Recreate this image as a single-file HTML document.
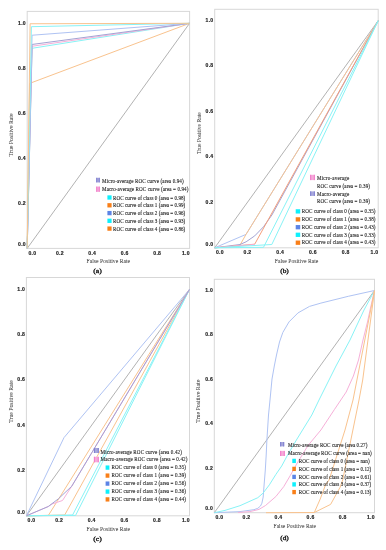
<!DOCTYPE html><html><head><meta charset="utf-8"><style>html,body{margin:0;padding:0;background:#fff;width:386px;height:550px;overflow:hidden}svg{display:block;filter:blur(0.3px)}</style></head><body>
<svg width="386" height="550" viewBox="0 0 386 550">
<rect width="386" height="550" fill="#fff"/>
<rect x="27.2" y="11.4" width="162.4" height="237" fill="none" stroke="#d7d7d7" stroke-width="1"/>
<polyline points="27.2,248.4 189.6,23.3" fill="none" stroke="#a9a9a9" stroke-width="0.9" stroke-linejoin="round" />
<polyline points="27.2,248.4 29.64,83.4 189.6,23.3" fill="none" stroke="#f9c38e" stroke-width="1.0" stroke-linejoin="round" />
<polyline points="27.2,248.4 32.07,48.29 189.6,23.3" fill="none" stroke="#88f3f6" stroke-width="1.0" stroke-linejoin="round" />
<polyline points="27.2,248.4 32.07,46.26 189.6,23.3" fill="none" stroke="#f6b0d9" stroke-width="1.0" stroke-linejoin="round" />
<polyline points="27.2,248.4 32.07,44.46 189.6,23.3" fill="none" stroke="#a3a3d3" stroke-width="1.0" stroke-linejoin="round" />
<polyline points="27.2,248.4 32.07,35.23 189.6,23.3" fill="none" stroke="#afc3f3" stroke-width="1.0" stroke-linejoin="round" />
<polyline points="27.2,248.4 31.42,26.68 189.6,23.3" fill="none" stroke="#88f3f6" stroke-width="1.0" stroke-linejoin="round" />
<polyline points="27.2,248.4 30.12,23.75 189.6,23.3" fill="none" stroke="#f9c38e" stroke-width="1.0" stroke-linejoin="round" />
<text x="21.9" y="246.15" font-family="Liberation Sans" font-size="5.1" font-weight="bold" fill="#222" text-anchor="middle" textLength="7.6" lengthAdjust="spacing" stroke="#222" stroke-width="0.15">0.0</text>
<text x="21.9" y="204.73" font-family="Liberation Sans" font-size="5.1" font-weight="bold" fill="#222" text-anchor="middle" textLength="7.6" lengthAdjust="spacing" stroke="#222" stroke-width="0.15">0.2</text>
<text x="21.9" y="159.71" font-family="Liberation Sans" font-size="5.1" font-weight="bold" fill="#222" text-anchor="middle" textLength="7.6" lengthAdjust="spacing" stroke="#222" stroke-width="0.15">0.4</text>
<text x="21.9" y="114.69" font-family="Liberation Sans" font-size="5.1" font-weight="bold" fill="#222" text-anchor="middle" textLength="7.6" lengthAdjust="spacing" stroke="#222" stroke-width="0.15">0.6</text>
<text x="21.9" y="69.67" font-family="Liberation Sans" font-size="5.1" font-weight="bold" fill="#222" text-anchor="middle" textLength="7.6" lengthAdjust="spacing" stroke="#222" stroke-width="0.15">0.8</text>
<text x="21.9" y="24.65" font-family="Liberation Sans" font-size="5.1" font-weight="bold" fill="#222" text-anchor="middle" textLength="7.6" lengthAdjust="spacing" stroke="#222" stroke-width="0.15">1.0</text>
<text x="32.2" y="255.05" font-family="Liberation Sans" font-size="5.1" font-weight="bold" fill="#222" text-anchor="middle" textLength="7.6" lengthAdjust="spacing" stroke="#222" stroke-width="0.15">0.0</text>
<text x="59.68" y="255.05" font-family="Liberation Sans" font-size="5.1" font-weight="bold" fill="#222" text-anchor="middle" textLength="7.6" lengthAdjust="spacing" stroke="#222" stroke-width="0.15">0.2</text>
<text x="92.16" y="255.05" font-family="Liberation Sans" font-size="5.1" font-weight="bold" fill="#222" text-anchor="middle" textLength="7.6" lengthAdjust="spacing" stroke="#222" stroke-width="0.15">0.4</text>
<text x="124.64" y="255.05" font-family="Liberation Sans" font-size="5.1" font-weight="bold" fill="#222" text-anchor="middle" textLength="7.6" lengthAdjust="spacing" stroke="#222" stroke-width="0.15">0.6</text>
<text x="157.12" y="255.05" font-family="Liberation Sans" font-size="5.1" font-weight="bold" fill="#222" text-anchor="middle" textLength="7.6" lengthAdjust="spacing" stroke="#222" stroke-width="0.15">0.8</text>
<text x="185.8" y="255.05" font-family="Liberation Sans" font-size="5.1" font-weight="bold" fill="#222" text-anchor="middle" textLength="7.6" lengthAdjust="spacing" stroke="#222" stroke-width="0.15">1.0</text>
<text x="0" y="0" font-family="Liberation Serif" font-size="6.6" fill="#454545" stroke="#454545" stroke-width="0.04" text-anchor="middle" textLength="42.7" lengthAdjust="spacingAndGlyphs" transform="translate(13.1,134.9) rotate(-90)">True Positive Rate</text>
<text x="108.3" y="263.4" font-family="Liberation Serif" font-size="6.6" font-weight="normal" fill="#454545" text-anchor="middle" textLength="43.5" lengthAdjust="spacingAndGlyphs" stroke="#454545" stroke-width="0.04">False Positive Rate</text>
<text x="97.6" y="272.7" font-family="Liberation Serif" font-size="6.9" font-weight="normal" fill="#111" text-anchor="middle" textLength="8.6" lengthAdjust="spacingAndGlyphs" stroke="#111" stroke-width="0.35">(a)</text>
<rect x="96.2" y="177.8" width="3.6" height="4.6" fill="#a8a8dc"/>
<rect x="96.2" y="177.8" width="1.1" height="4.6" fill="#8282d2"/>
<rect x="98.7" y="177.8" width="1.1" height="4.6" fill="#8282d2"/>
<text x="102.1" y="183.25" font-family="Liberation Serif" font-size="5.1" font-weight="normal" fill="#1e1e1e" text-anchor="start" textLength="81.6" lengthAdjust="spacing" stroke="#1e1e1e" stroke-width="0.1">Micro-average ROC curve (area 0.94)</text>
<rect x="96.2" y="186.6" width="3.6" height="5.2" fill="#f6acda"/>
<rect x="96.2" y="186.6" width="1.1" height="5.2" fill="#f27ecb"/>
<rect x="98.7" y="186.6" width="1.1" height="5.2" fill="#f27ecb"/>
<text x="102" y="190.95" font-family="Liberation Serif" font-size="5.1" font-weight="normal" fill="#1e1e1e" text-anchor="start" textLength="86.4" lengthAdjust="spacing" stroke="#1e1e1e" stroke-width="0.1">Macro-average ROC curve (area = 0.94)</text>
<rect x="107.4" y="195.35" width="4.2" height="4.3" fill="#0ef0fc"/>
<text x="113" y="199.85" font-family="Liberation Serif" font-size="5.1" font-weight="normal" fill="#1e1e1e" text-anchor="start" textLength="72.3" lengthAdjust="spacing" stroke="#1e1e1e" stroke-width="0.1">ROC curve of class 0 (area = 0.98)</text>
<rect x="107.4" y="203.15" width="4.2" height="4.3" fill="#f97f18"/>
<text x="113" y="207.25" font-family="Liberation Serif" font-size="5.1" font-weight="normal" fill="#1e1e1e" text-anchor="start" textLength="72.3" lengthAdjust="spacing" stroke="#1e1e1e" stroke-width="0.1">ROC curve of class 1 (area = 0.99)</text>
<rect x="107.4" y="210.95" width="4.2" height="4.3" fill="#5c84e6"/>
<text x="113" y="215.05" font-family="Liberation Serif" font-size="5.1" font-weight="normal" fill="#1e1e1e" text-anchor="start" textLength="72.3" lengthAdjust="spacing" stroke="#1e1e1e" stroke-width="0.1">ROC curve of class 2 (area = 0.96)</text>
<rect x="107.4" y="218.65" width="4.2" height="4.3" fill="#0ef0fc"/>
<text x="113" y="222.85" font-family="Liberation Serif" font-size="5.1" font-weight="normal" fill="#1e1e1e" text-anchor="start" textLength="72.3" lengthAdjust="spacing" stroke="#1e1e1e" stroke-width="0.1">ROC curve of class 3 (area = 0.93)</text>
<rect x="107.4" y="226.45" width="4.2" height="4.3" fill="#f97f18"/>
<text x="113" y="230.55" font-family="Liberation Serif" font-size="5.1" font-weight="normal" fill="#1e1e1e" text-anchor="start" textLength="72.3" lengthAdjust="spacing" stroke="#1e1e1e" stroke-width="0.1">ROC curve of class 4 (area = 0.86)</text>
<rect x="214.7" y="9.3" width="163.5" height="238.5" fill="none" stroke="#d7d7d7" stroke-width="1"/>
<polyline points="214.7,247.8 378.2,20.7" fill="none" stroke="#a9a9a9" stroke-width="0.9" stroke-linejoin="round" />
<polyline points="214.7,247.8 246,234.4 378.2,20.7" fill="none" stroke="#afc3f3" stroke-width="1.0" stroke-linejoin="round" />
<polyline points="214.7,247.8 239.4,246.2 245.9,234.6 378.2,20.7" fill="none" stroke="#f9c38e" stroke-width="1.0" stroke-linejoin="round" />
<polyline points="214.7,247.8 240,244.5 246.1,241.8 254.7,235.9 263.5,226.8 271.9,215 378.2,20.7" fill="none" stroke="#a3a3d3" stroke-width="1.0" stroke-linejoin="round" />
<polyline points="214.7,247.8 254.7,244.2 378.2,20.7" fill="none" stroke="#f4a07e" stroke-width="1.0" stroke-linejoin="round" />
<polyline points="214.7,247.8 254.7,244.4" fill="none" stroke="#f6b0d9" stroke-width="1.0" stroke-linejoin="round" />
<polyline points="214.7,247.8 263.5,247.3 378.2,20.7" fill="none" stroke="#88f3f6" stroke-width="1.0" stroke-linejoin="round" />
<polyline points="214.7,247.8 271.8,244.5 378.2,20.7" fill="none" stroke="#88f3f6" stroke-width="1.0" stroke-linejoin="round" />
<text x="209.4" y="245.55" font-family="Liberation Sans" font-size="5.1" font-weight="bold" fill="#222" text-anchor="middle" textLength="7.6" lengthAdjust="spacing" stroke="#222" stroke-width="0.15">0.0</text>
<text x="209.4" y="203.73" font-family="Liberation Sans" font-size="5.1" font-weight="bold" fill="#222" text-anchor="middle" textLength="7.6" lengthAdjust="spacing" stroke="#222" stroke-width="0.15">0.2</text>
<text x="209.4" y="158.31" font-family="Liberation Sans" font-size="5.1" font-weight="bold" fill="#222" text-anchor="middle" textLength="7.6" lengthAdjust="spacing" stroke="#222" stroke-width="0.15">0.4</text>
<text x="209.4" y="112.89" font-family="Liberation Sans" font-size="5.1" font-weight="bold" fill="#222" text-anchor="middle" textLength="7.6" lengthAdjust="spacing" stroke="#222" stroke-width="0.15">0.6</text>
<text x="209.4" y="67.47" font-family="Liberation Sans" font-size="5.1" font-weight="bold" fill="#222" text-anchor="middle" textLength="7.6" lengthAdjust="spacing" stroke="#222" stroke-width="0.15">0.8</text>
<text x="209.4" y="22.05" font-family="Liberation Sans" font-size="5.1" font-weight="bold" fill="#222" text-anchor="middle" textLength="7.6" lengthAdjust="spacing" stroke="#222" stroke-width="0.15">1.0</text>
<text x="219.7" y="254.45" font-family="Liberation Sans" font-size="5.1" font-weight="bold" fill="#222" text-anchor="middle" textLength="7.6" lengthAdjust="spacing" stroke="#222" stroke-width="0.15">0.0</text>
<text x="247.4" y="254.45" font-family="Liberation Sans" font-size="5.1" font-weight="bold" fill="#222" text-anchor="middle" textLength="7.6" lengthAdjust="spacing" stroke="#222" stroke-width="0.15">0.2</text>
<text x="280.1" y="254.45" font-family="Liberation Sans" font-size="5.1" font-weight="bold" fill="#222" text-anchor="middle" textLength="7.6" lengthAdjust="spacing" stroke="#222" stroke-width="0.15">0.4</text>
<text x="312.8" y="254.45" font-family="Liberation Sans" font-size="5.1" font-weight="bold" fill="#222" text-anchor="middle" textLength="7.6" lengthAdjust="spacing" stroke="#222" stroke-width="0.15">0.6</text>
<text x="345.5" y="254.45" font-family="Liberation Sans" font-size="5.1" font-weight="bold" fill="#222" text-anchor="middle" textLength="7.6" lengthAdjust="spacing" stroke="#222" stroke-width="0.15">0.8</text>
<text x="374.4" y="254.45" font-family="Liberation Sans" font-size="5.1" font-weight="bold" fill="#222" text-anchor="middle" textLength="7.6" lengthAdjust="spacing" stroke="#222" stroke-width="0.15">1.0</text>
<text x="0" y="0" font-family="Liberation Serif" font-size="6.6" fill="#454545" stroke="#454545" stroke-width="0.04" text-anchor="middle" textLength="42" lengthAdjust="spacingAndGlyphs" transform="translate(200.9,133.1) rotate(-90)">True Positive Rate</text>
<text x="296.6" y="262.9" font-family="Liberation Serif" font-size="6.6" font-weight="normal" fill="#454545" text-anchor="middle" textLength="43.5" lengthAdjust="spacingAndGlyphs" stroke="#454545" stroke-width="0.04">False Positive Rate</text>
<text x="284.5" y="272.5" font-family="Liberation Serif" font-size="6.9" font-weight="normal" fill="#111" text-anchor="middle" textLength="8.6" lengthAdjust="spacingAndGlyphs" stroke="#111" stroke-width="0.35">(b)</text>
<rect x="310.1" y="174.8" width="4.8" height="5.3" fill="#f6acda"/>
<rect x="310.1" y="174.8" width="1.1" height="5.3" fill="#f27ecb"/>
<rect x="313.8" y="174.8" width="1.1" height="5.3" fill="#f27ecb"/>
<text x="317" y="180.35" font-family="Liberation Serif" font-size="5.1" font-weight="normal" fill="#1e1e1e" text-anchor="start" textLength="32.2" lengthAdjust="spacing" stroke="#1e1e1e" stroke-width="0.1">Micro-average</text>
<text x="317" y="188.05" font-family="Liberation Serif" font-size="5.1" font-weight="normal" fill="#1e1e1e" text-anchor="start" textLength="53" lengthAdjust="spacing" stroke="#1e1e1e" stroke-width="0.1">ROC curve (area = 0.39)</text>
<rect x="310.1" y="191.4" width="4.8" height="4.5" fill="#a8a8dc"/>
<rect x="310.1" y="191.4" width="1.1" height="4.5" fill="#8282d2"/>
<rect x="313.8" y="191.4" width="1.1" height="4.5" fill="#8282d2"/>
<text x="317" y="195.75" font-family="Liberation Serif" font-size="5.1" font-weight="normal" fill="#1e1e1e" text-anchor="start" textLength="32.2" lengthAdjust="spacing" stroke="#1e1e1e" stroke-width="0.1">Macro-average</text>
<text x="317" y="203.35" font-family="Liberation Serif" font-size="5.1" font-weight="normal" fill="#1e1e1e" text-anchor="start" textLength="53" lengthAdjust="spacing" stroke="#1e1e1e" stroke-width="0.1">ROC curve (area = 0.39)</text>
<rect x="295.7" y="209.25" width="4.5" height="4.3" fill="#0ef0fc"/>
<text x="301.8" y="213.15" font-family="Liberation Serif" font-size="5.1" font-weight="normal" fill="#1e1e1e" text-anchor="start" textLength="73.7" lengthAdjust="spacing" stroke="#1e1e1e" stroke-width="0.1">ROC curve of class 0 (area = 0.35)</text>
<rect x="295.7" y="217.25" width="4.5" height="4.3" fill="#f97f18"/>
<text x="301.8" y="221.15" font-family="Liberation Serif" font-size="5.1" font-weight="normal" fill="#1e1e1e" text-anchor="start" textLength="73.7" lengthAdjust="spacing" stroke="#1e1e1e" stroke-width="0.1">ROC curve of class 1 (area = 0.38)</text>
<rect x="295.7" y="225.05" width="4.5" height="4.3" fill="#5c84e6"/>
<text x="301.8" y="228.95" font-family="Liberation Serif" font-size="5.1" font-weight="normal" fill="#1e1e1e" text-anchor="start" textLength="73.7" lengthAdjust="spacing" stroke="#1e1e1e" stroke-width="0.1">ROC curve of class 2 (area = 0.43)</text>
<rect x="295.7" y="232.65" width="4.5" height="4.3" fill="#0ef0fc"/>
<text x="301.8" y="236.55" font-family="Liberation Serif" font-size="5.1" font-weight="normal" fill="#1e1e1e" text-anchor="start" textLength="73.7" lengthAdjust="spacing" stroke="#1e1e1e" stroke-width="0.1">ROC curve of class 3 (area = 0.33)</text>
<rect x="295.7" y="240.55" width="4.5" height="4.3" fill="#f97f18"/>
<text x="301.8" y="244.45" font-family="Liberation Serif" font-size="5.1" font-weight="normal" fill="#1e1e1e" text-anchor="start" textLength="73.7" lengthAdjust="spacing" stroke="#1e1e1e" stroke-width="0.1">ROC curve of class 4 (area = 0.43)</text>
<rect x="26.4" y="277.5" width="163.1" height="238.3" fill="none" stroke="#d7d7d7" stroke-width="1"/>
<polyline points="26.4,515.8 189.5,289.4" fill="none" stroke="#a9a9a9" stroke-width="0.9" stroke-linejoin="round" />
<polyline points="26.4,515.8 64,437.6 189.5,289.4" fill="none" stroke="#afc3f3" stroke-width="1.0" stroke-linejoin="round" />
<polyline points="26.4,515.8 48.3,515.5 189.5,289.4" fill="none" stroke="#f9c38e" stroke-width="1.0" stroke-linejoin="round" />
<polyline points="26.4,515.8 64.7,515 189.5,289.4" fill="none" stroke="#f9c38e" stroke-width="1.0" stroke-linejoin="round" />
<polyline points="26.4,515.8 72.6,515 189.5,289.4" fill="none" stroke="#88f3f6" stroke-width="1.0" stroke-linejoin="round" />
<polyline points="26.4,515.8 75.6,515.4 189.5,289.4" fill="none" stroke="#88f3f6" stroke-width="1.0" stroke-linejoin="round" />
<polyline points="26.4,515.8 48.3,506.5 52,504 62.5,500.5 71.7,486.3 189.5,289.4" fill="none" stroke="#f6b0d9" stroke-width="1.0" stroke-linejoin="round" />
<polyline points="26.4,515.8 48.3,506.5 58.4,498.8 71.7,486.3 189.5,289.4" fill="none" stroke="#a3a3d3" stroke-width="1.0" stroke-linejoin="round" />
<text x="21.1" y="513.55" font-family="Liberation Sans" font-size="5.1" font-weight="bold" fill="#222" text-anchor="middle" textLength="7.6" lengthAdjust="spacing" stroke="#222" stroke-width="0.15">0.0</text>
<text x="21.1" y="471.87" font-family="Liberation Sans" font-size="5.1" font-weight="bold" fill="#222" text-anchor="middle" textLength="7.6" lengthAdjust="spacing" stroke="#222" stroke-width="0.15">0.2</text>
<text x="21.1" y="426.59" font-family="Liberation Sans" font-size="5.1" font-weight="bold" fill="#222" text-anchor="middle" textLength="7.6" lengthAdjust="spacing" stroke="#222" stroke-width="0.15">0.4</text>
<text x="21.1" y="381.31" font-family="Liberation Sans" font-size="5.1" font-weight="bold" fill="#222" text-anchor="middle" textLength="7.6" lengthAdjust="spacing" stroke="#222" stroke-width="0.15">0.6</text>
<text x="21.1" y="336.03" font-family="Liberation Sans" font-size="5.1" font-weight="bold" fill="#222" text-anchor="middle" textLength="7.6" lengthAdjust="spacing" stroke="#222" stroke-width="0.15">0.8</text>
<text x="21.1" y="290.75" font-family="Liberation Sans" font-size="5.1" font-weight="bold" fill="#222" text-anchor="middle" textLength="7.6" lengthAdjust="spacing" stroke="#222" stroke-width="0.15">1.0</text>
<text x="31.4" y="522.45" font-family="Liberation Sans" font-size="5.1" font-weight="bold" fill="#222" text-anchor="middle" textLength="7.6" lengthAdjust="spacing" stroke="#222" stroke-width="0.15">0.0</text>
<text x="59.02" y="522.45" font-family="Liberation Sans" font-size="5.1" font-weight="bold" fill="#222" text-anchor="middle" textLength="7.6" lengthAdjust="spacing" stroke="#222" stroke-width="0.15">0.2</text>
<text x="91.64" y="522.45" font-family="Liberation Sans" font-size="5.1" font-weight="bold" fill="#222" text-anchor="middle" textLength="7.6" lengthAdjust="spacing" stroke="#222" stroke-width="0.15">0.4</text>
<text x="124.26" y="522.45" font-family="Liberation Sans" font-size="5.1" font-weight="bold" fill="#222" text-anchor="middle" textLength="7.6" lengthAdjust="spacing" stroke="#222" stroke-width="0.15">0.6</text>
<text x="156.88" y="522.45" font-family="Liberation Sans" font-size="5.1" font-weight="bold" fill="#222" text-anchor="middle" textLength="7.6" lengthAdjust="spacing" stroke="#222" stroke-width="0.15">0.8</text>
<text x="185.7" y="522.45" font-family="Liberation Sans" font-size="5.1" font-weight="bold" fill="#222" text-anchor="middle" textLength="7.6" lengthAdjust="spacing" stroke="#222" stroke-width="0.15">1.0</text>
<text x="0" y="0" font-family="Liberation Serif" font-size="6.6" fill="#454545" stroke="#454545" stroke-width="0.04" text-anchor="middle" textLength="42.6" lengthAdjust="spacingAndGlyphs" transform="translate(12.7,401.5) rotate(-90)">True Positive Rate</text>
<text x="108.3" y="530.9" font-family="Liberation Serif" font-size="6.6" font-weight="normal" fill="#454545" text-anchor="middle" textLength="43.5" lengthAdjust="spacingAndGlyphs" stroke="#454545" stroke-width="0.04">False Positive Rate</text>
<text x="97.6" y="540.8" font-family="Liberation Serif" font-size="6.9" font-weight="normal" fill="#111" text-anchor="middle" textLength="8.6" lengthAdjust="spacingAndGlyphs" stroke="#111" stroke-width="0.35">(c)</text>
<rect x="93.9" y="448" width="4.9" height="5" fill="#a8a8dc"/>
<rect x="93.9" y="448" width="1.1" height="5" fill="#8282d2"/>
<rect x="97.7" y="448" width="1.1" height="5" fill="#8282d2"/>
<text x="100.6" y="453.65" font-family="Liberation Serif" font-size="5.1" font-weight="normal" fill="#1e1e1e" text-anchor="start" textLength="81.3" lengthAdjust="spacing" stroke="#1e1e1e" stroke-width="0.1">Micro-average ROC curve (area 0.42)</text>
<rect x="93.9" y="456.8" width="4.9" height="5.5" fill="#f6acda"/>
<rect x="93.9" y="456.8" width="1.1" height="5.5" fill="#f27ecb"/>
<rect x="97.7" y="456.8" width="1.1" height="5.5" fill="#f27ecb"/>
<text x="100.6" y="461.15" font-family="Liberation Serif" font-size="5.1" font-weight="normal" fill="#1e1e1e" text-anchor="start" textLength="86.8" lengthAdjust="spacing" stroke="#1e1e1e" stroke-width="0.1">Macro-average ROC curve (area = 0.42)</text>
<rect x="105.6" y="465.45" width="3.8" height="4.3" fill="#0ef0fc"/>
<text x="111.4" y="469.35" font-family="Liberation Serif" font-size="5.1" font-weight="normal" fill="#1e1e1e" text-anchor="start" textLength="74.6" lengthAdjust="spacing" stroke="#1e1e1e" stroke-width="0.1">ROC curve of class 0 (area = 0.35)</text>
<rect x="105.6" y="473.45" width="3.8" height="4.3" fill="#f97f18"/>
<text x="111.4" y="477.35" font-family="Liberation Serif" font-size="5.1" font-weight="normal" fill="#1e1e1e" text-anchor="start" textLength="74.6" lengthAdjust="spacing" stroke="#1e1e1e" stroke-width="0.1">ROC curve of class 1 (area = 0.39)</text>
<rect x="105.6" y="481.45" width="3.8" height="4.3" fill="#5c84e6"/>
<text x="111.4" y="485.35" font-family="Liberation Serif" font-size="5.1" font-weight="normal" fill="#1e1e1e" text-anchor="start" textLength="74.6" lengthAdjust="spacing" stroke="#1e1e1e" stroke-width="0.1">ROC curve of class 2 (area = 0.56)</text>
<rect x="105.6" y="489.45" width="3.8" height="4.3" fill="#0ef0fc"/>
<text x="111.4" y="493.35" font-family="Liberation Serif" font-size="5.1" font-weight="normal" fill="#1e1e1e" text-anchor="start" textLength="74.6" lengthAdjust="spacing" stroke="#1e1e1e" stroke-width="0.1">ROC curve of class 3 (area = 0.36)</text>
<rect x="105.6" y="497.25" width="3.8" height="4.3" fill="#f97f18"/>
<text x="111.4" y="501.15" font-family="Liberation Serif" font-size="5.1" font-weight="normal" fill="#1e1e1e" text-anchor="start" textLength="74.6" lengthAdjust="spacing" stroke="#1e1e1e" stroke-width="0.1">ROC curve of class 4 (area = 0.44)</text>
<rect x="214.3" y="279.3" width="160.2" height="233.4" fill="none" stroke="#d7d7d7" stroke-width="1"/>
<polyline points="214.3,512.7 374.5,290.5" fill="none" stroke="#a9a9a9" stroke-width="0.9" stroke-linejoin="round" />
<polyline points="214.3,512.7 240,511.6 253.9,509.7 257.8,508.3 260.5,506 261.9,503.2 263.2,497 263.7,490 265.3,470 266.2,455 266.9,440 268.5,415 270,400 272,379 274.3,366 276.5,355 279.5,342 282.8,332.5 289,321.9 298,312.9 309.5,306.4 320.9,303.1 348.3,296.3 374.5,290.5" fill="none" stroke="#afc3f3" stroke-width="1.0" stroke-linejoin="round" />
<polyline points="214.3,512.7 225,510.4 240,505.7 250,501.2 257.8,497.7 263,493.2 269.4,484.8 275.9,474.4 281.7,466 287.6,455 296.4,440 311.8,415 319,400 336,366 350,340 364,310 374.5,290.5" fill="none" stroke="#88f3f6" stroke-width="1.0" stroke-linejoin="round" />
<polyline points="238,512.5 250,511.6 259,509.4 265.5,505.5 275.9,496.5 283.7,486.7 290.2,475.7 296.6,464.1 308,445.5 320.9,430 334.5,409.4 346.2,392 353.4,376 358.5,360 363,340 367.5,322 370.5,308 374.5,290.5" fill="none" stroke="#f6b0d9" stroke-width="1.0" stroke-linejoin="round" />
<polyline points="266,512.7 314.3,512.5 320.2,499.1 325.4,485.2 329.1,480 333.9,465 345,430 353,400 374.5,290.5" fill="none" stroke="#f9c38e" stroke-width="1.0" stroke-linejoin="round" />
<polyline points="314.3,512.5 330.6,504.4 340,487.5 342.7,480 359,400 362.7,380 374.5,290.5" fill="none" stroke="#f9c38e" stroke-width="1.0" stroke-linejoin="round" />
<text x="209" y="510.45" font-family="Liberation Sans" font-size="5.1" font-weight="bold" fill="#222" text-anchor="middle" textLength="7.6" lengthAdjust="spacing" stroke="#222" stroke-width="0.15">0.0</text>
<text x="209" y="469.61" font-family="Liberation Sans" font-size="5.1" font-weight="bold" fill="#222" text-anchor="middle" textLength="7.6" lengthAdjust="spacing" stroke="#222" stroke-width="0.15">0.2</text>
<text x="209" y="425.17" font-family="Liberation Sans" font-size="5.1" font-weight="bold" fill="#222" text-anchor="middle" textLength="7.6" lengthAdjust="spacing" stroke="#222" stroke-width="0.15">0.4</text>
<text x="209" y="380.73" font-family="Liberation Sans" font-size="5.1" font-weight="bold" fill="#222" text-anchor="middle" textLength="7.6" lengthAdjust="spacing" stroke="#222" stroke-width="0.15">0.6</text>
<text x="209" y="336.29" font-family="Liberation Sans" font-size="5.1" font-weight="bold" fill="#222" text-anchor="middle" textLength="7.6" lengthAdjust="spacing" stroke="#222" stroke-width="0.15">0.8</text>
<text x="209" y="291.85" font-family="Liberation Sans" font-size="5.1" font-weight="bold" fill="#222" text-anchor="middle" textLength="7.6" lengthAdjust="spacing" stroke="#222" stroke-width="0.15">1.0</text>
<text x="219.3" y="519.35" font-family="Liberation Sans" font-size="5.1" font-weight="bold" fill="#222" text-anchor="middle" textLength="7.6" lengthAdjust="spacing" stroke="#222" stroke-width="0.15">0.0</text>
<text x="246.34" y="519.35" font-family="Liberation Sans" font-size="5.1" font-weight="bold" fill="#222" text-anchor="middle" textLength="7.6" lengthAdjust="spacing" stroke="#222" stroke-width="0.15">0.2</text>
<text x="278.38" y="519.35" font-family="Liberation Sans" font-size="5.1" font-weight="bold" fill="#222" text-anchor="middle" textLength="7.6" lengthAdjust="spacing" stroke="#222" stroke-width="0.15">0.4</text>
<text x="310.42" y="519.35" font-family="Liberation Sans" font-size="5.1" font-weight="bold" fill="#222" text-anchor="middle" textLength="7.6" lengthAdjust="spacing" stroke="#222" stroke-width="0.15">0.6</text>
<text x="342.46" y="519.35" font-family="Liberation Sans" font-size="5.1" font-weight="bold" fill="#222" text-anchor="middle" textLength="7.6" lengthAdjust="spacing" stroke="#222" stroke-width="0.15">0.8</text>
<text x="370.7" y="519.35" font-family="Liberation Sans" font-size="5.1" font-weight="bold" fill="#222" text-anchor="middle" textLength="7.6" lengthAdjust="spacing" stroke="#222" stroke-width="0.15">1.0</text>
<text x="0" y="0" font-family="Liberation Serif" font-size="6.6" fill="#454545" stroke="#454545" stroke-width="0.04" text-anchor="middle" textLength="43" lengthAdjust="spacingAndGlyphs" transform="translate(200.1,401.2) rotate(-90)">True Positive Rate</text>
<text x="294.8" y="527.9" font-family="Liberation Serif" font-size="6.6" font-weight="normal" fill="#454545" text-anchor="middle" textLength="42.5" lengthAdjust="spacingAndGlyphs" stroke="#454545" stroke-width="0.04">False Positive Rate</text>
<text x="284.5" y="539.6" font-family="Liberation Serif" font-size="6.9" font-weight="normal" fill="#111" text-anchor="middle" textLength="8.6" lengthAdjust="spacingAndGlyphs" stroke="#111" stroke-width="0.35">(d)</text>
<rect x="280.1" y="442" width="4.1" height="4.4" fill="#a8a8dc"/>
<rect x="280.1" y="442" width="1.1" height="4.4" fill="#8282d2"/>
<rect x="283.1" y="442" width="1.1" height="4.4" fill="#8282d2"/>
<text x="287.9" y="447.25" font-family="Liberation Serif" font-size="5.1" font-weight="normal" fill="#1e1e1e" text-anchor="start" textLength="79.5" lengthAdjust="spacing" stroke="#1e1e1e" stroke-width="0.1">Micro-average ROC curve (area 0.27)</text>
<rect x="280.1" y="450.9" width="4.7" height="5.1" fill="#f6acda"/>
<rect x="280.1" y="450.9" width="1.1" height="5.1" fill="#f27ecb"/>
<rect x="283.7" y="450.9" width="1.1" height="5.1" fill="#f27ecb"/>
<text x="287.9" y="454.85" font-family="Liberation Serif" font-size="5.1" font-weight="normal" fill="#1e1e1e" text-anchor="start" textLength="83.8" lengthAdjust="spacing" stroke="#1e1e1e" stroke-width="0.1">Macro-average ROC curve (area = nan)</text>
<rect x="292.3" y="458.75" width="3.6" height="4.3" fill="#0ef0fc"/>
<text x="298.8" y="463.35" font-family="Liberation Serif" font-size="5.1" font-weight="normal" fill="#1e1e1e" text-anchor="start" textLength="70.8" lengthAdjust="spacing" stroke="#1e1e1e" stroke-width="0.1">ROC curve of class 0 (area = nan)</text>
<rect x="292.3" y="466.75" width="3.6" height="4.3" fill="#f97f18"/>
<text x="298.8" y="471.15" font-family="Liberation Serif" font-size="5.1" font-weight="normal" fill="#1e1e1e" text-anchor="start" textLength="72.5" lengthAdjust="spacing" stroke="#1e1e1e" stroke-width="0.1">ROC curve of class 1 (area = 0.12)</text>
<rect x="292.3" y="474.75" width="3.6" height="4.3" fill="#5c84e6"/>
<text x="298.8" y="478.75" font-family="Liberation Serif" font-size="5.1" font-weight="normal" fill="#1e1e1e" text-anchor="start" textLength="72.5" lengthAdjust="spacing" stroke="#1e1e1e" stroke-width="0.1">ROC curve of class 2 (area = 0.61)</text>
<rect x="292.3" y="482.25" width="3.6" height="4.3" fill="#0ef0fc"/>
<text x="298.8" y="486.25" font-family="Liberation Serif" font-size="5.1" font-weight="normal" fill="#1e1e1e" text-anchor="start" textLength="72.5" lengthAdjust="spacing" stroke="#1e1e1e" stroke-width="0.1">ROC curve of class 3 (area = 0.37)</text>
<rect x="292.3" y="489.95" width="3.6" height="4.3" fill="#f97f18"/>
<text x="298.8" y="493.85" font-family="Liberation Serif" font-size="5.1" font-weight="normal" fill="#1e1e1e" text-anchor="start" textLength="72.5" lengthAdjust="spacing" stroke="#1e1e1e" stroke-width="0.1">ROC curve of class 4 (area = 0.13)</text>
</svg></body></html>
